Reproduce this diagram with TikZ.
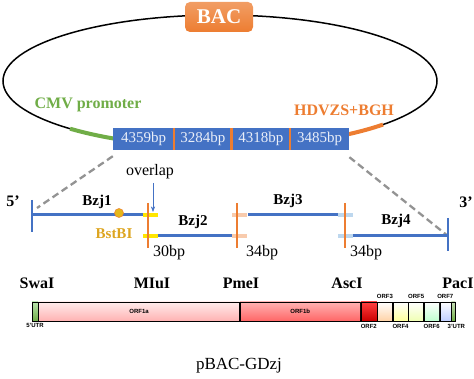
\documentclass[tikz,border=0pt]{standalone}
\usepackage{fontspec}
\setmainfont{Liberation Serif}
\newfontfamily\arialfont{Liberation Sans}
\usetikzlibrary{positioning,arrows.meta}
\definecolor{bacorange}{HTML}{ED7D31}
\definecolor{cmvgreen}{HTML}{70AD47}
\definecolor{bacblue}{HTML}{4472C4}
\definecolor{bstgold}{HTML}{DDA520}
\definecolor{ovyellow}{HTML}{FFE600}
\definecolor{ovsalmon}{HTML}{F8CBAD}
\definecolor{ovblue}{HTML}{BDD7EE}
\definecolor{cutgray}{HTML}{939393}
\begin{document}
\begin{tikzpicture}[x=1pt,y=-1pt,>=Stealth,
    seg/.style={fill=bacblue,minimum height=22,inner sep=0,text=white!88!bacblue,font=\fontsize{15}{15}\selectfont},
    cut/.style={bacorange,line width=2.5pt},
    frag/.style={bacblue,line width=3pt},
    ovl/.style={line width=4pt},
    fraglabel/.style={font=\fontsize{15}{15}\selectfont\bfseries},
    bplabel/.style={font=\fontsize{16}{16}\selectfont},
    site/.style={font=\fontsize{16}{16}\selectfont\bfseries},
    gene/.style={draw=black,line width=0.6pt,minimum height=19,inner sep=0,font=\arialfont\fontsize{6}{6}\selectfont\bfseries},
    orf/.style={font=\arialfont\fontsize{6}{6}\selectfont\bfseries,inner sep=1pt}]
    \useasboundingbox (0,0) rectangle (474,379);
    % plasmid
    \draw[line width=1.5pt] (220,81) ellipse [x radius=217, y radius=66];
    \draw[cmvgreen,line width=4pt] (220,81) ++(133.7:217 and 66) arc[start angle=133.7,end angle=119.5,x radius=217,y radius=66];
    \draw[bacorange,line width=4pt] (220,81) ++(54.2:217 and 66) arc[start angle=54.2,end angle=41.3,x radius=217,y radius=66];
    \node[top color=bacorange!75!white,bottom color=bacorange,rounded corners=5pt,minimum width=68,minimum height=30,inner sep=0,text=white,font=\fontsize{21}{21}\selectfont\bfseries] (bac) at (219,17) {BAC};
    \node[site,cmvgreen] (cmv) at (88,105) {CMV promoter};
    \node[site,bacorange] (hdv) at (344,110) {HDVZS+BGH};
    % insert
    \node[seg,minimum width=61] (s1) at (143.5,139) {4359bp};
    \node[seg,minimum width=57,right=0pt of s1] (s2) {3284bp};
    \node[seg,minimum width=58,right=0pt of s2] (s3) {4318bp};
    \node[seg,minimum width=59,right=0pt of s3] (s4) {3485bp};
    \foreach \a in {s1,s2,s3}
      \draw[cut] (\a.north east) -- (\a.south east);
    % fragments
    \coordinate (b1s) at (32,215);  \coordinate (b1e) at (143,215);
    \coordinate (b2s) at (158,236); \coordinate (b2e) at (232,236);
    \coordinate (b3s) at (248,215); \coordinate (b3e) at (338,215);
    \coordinate (b4s) at (353,236); \coordinate (b4e) at (448,236);
    \draw[cutgray,line width=2.3pt,dash pattern=on 7pt off 4pt] ([yshift=-6pt]s1.south west) -- (37,208);
    \draw[cutgray,line width=2.3pt,dash pattern=on 7pt off 4pt] ([yshift=-7pt]s4.south east) -- (b4e);
    \draw[frag] (b1s) -- (b1e);
    \draw[frag] (b2s) -- (b2e);
    \draw[frag] (b3s) -- (b3e);
    \draw[frag] (b4s) -- (b4e);
    \draw[frag,line width=2.5pt] (b1s |- 0,200) -- (b1s |- 0,232);
    \draw[frag,line width=2.5pt] (b4e |- 0,218) -- (b4e |- 0,251);
    \foreach \x/\c in {143/ovyellow,232/ovsalmon,338/ovblue} {
      \draw[ovl,\c] (\x,215) -- ++(15,0);
      \draw[ovl,\c] (\x,236) -- ++(15,0);
    }
    \foreach \x in {148,237,345}
      \draw[bacorange,line width=2pt] (\x,203) -- (\x,248);
    \node[circle,fill=bstgold!80!yellow,draw=bacorange,line width=0.5pt,inner sep=0,minimum size=9] (bst) at (119,213) {};
    % labels
    \node[site] (p5) at (13,201) {5’};
    \node[site] (p3) at (466,202) {3’};
    \node[fraglabel] (l1) at (97,202) {Bzj1};
    \node[fraglabel] (l2) at (193,222) {Bzj2};
    \node[fraglabel] (l3) at (288,201) {Bzj3};
    \node[fraglabel] (l4) at (396,221) {Bzj4};
    \node[fraglabel,bstgold] (bstl) at (114,234) {BstBI};
    \node[bplabel] (ov) at (150,172) {overlap};
    \coordinate (ovtip) at (153,212);
    \draw[->,bacblue,line width=0.6pt] (ovtip |- ov.south) -- (ovtip);
    \node[bplabel] (o1) at (169,253) {30bp};
    \node[bplabel] (o2) at (262,253) {34bp};
    \node[bplabel] (o3) at (366,253) {34bp};
    % genome
    \node[site] (swa) at (37,283) {SwaI};
    \node[site] (mlu) at (152,283) {MIuI};
    \node[site] (pme) at (241,283) {PmeI};
    \node[site] (asc) at (347,283) {AscI};
    \node[site] (pac) at (458,283) {PacI};
    \node[gene,minimum width=6,top color=green!25!cmvgreen!40!white,bottom color=cmvgreen] (utr5) at (35,311.5) {};
    \node[gene,minimum width=201,right=0pt of utr5,top color=red!8!white,bottom color=red!30!white] (orf1a) {ORF1a};
    \node[gene,minimum width=120,right=0pt of orf1a,top color=red!30!white,bottom color=red!60!white] (orf1b) {ORF1b};
    \node[gene,minimum width=16,right=0pt of orf1b,top color=red!75!white,bottom color=red!80!black] (orf2) {};
    \node[gene,minimum width=15,right=0pt of orf2,top color=white,bottom color=orange!35!white] (orf3) {};
    \node[gene,minimum width=15,right=0pt of orf3,top color=white,bottom color=yellow!40!white] (orf4) {};
    \node[gene,minimum width=15,right=0pt of orf4,top color=white,bottom color=green!20!yellow!30!white] (orf5) {};
    \node[gene,minimum width=15,right=0pt of orf5,top color=white,bottom color=cyan!25!green!25!white] (orf6) {};
    \node[gene,minimum width=11,right=0pt of orf6,top color=white,bottom color=cyan!25!blue!25!white] (orf7) {};
    \node[gene,minimum width=4,right=0pt of orf7,top color=cmvgreen!40!white,bottom color=cmvgreen] (utr3) {};
    \node[orf,below=1pt of utr5] (t5) {5’UTR};
    \node[orf,below=2pt of orf2] (t2) {ORF2};
    \node[orf,above=2pt of orf3] (t3) {ORF3};
    \node[orf,below=2pt of orf4] (t4) {ORF4};
    \node[orf,above=2pt of orf5] (t5b) {ORF5};
    \node[orf,below=2pt of orf6] (t6) {ORF6};
    \node[orf,above=2pt of orf7] (t7) {ORF7};
    \node[orf,below=2pt of utr3,xshift=3pt] (t3u) {3’UTR};
    \node[font=\fontsize{17}{17}\selectfont] (name) at (239,366) {pBAC-GDzj};
  \end{tikzpicture}
\end{document}
